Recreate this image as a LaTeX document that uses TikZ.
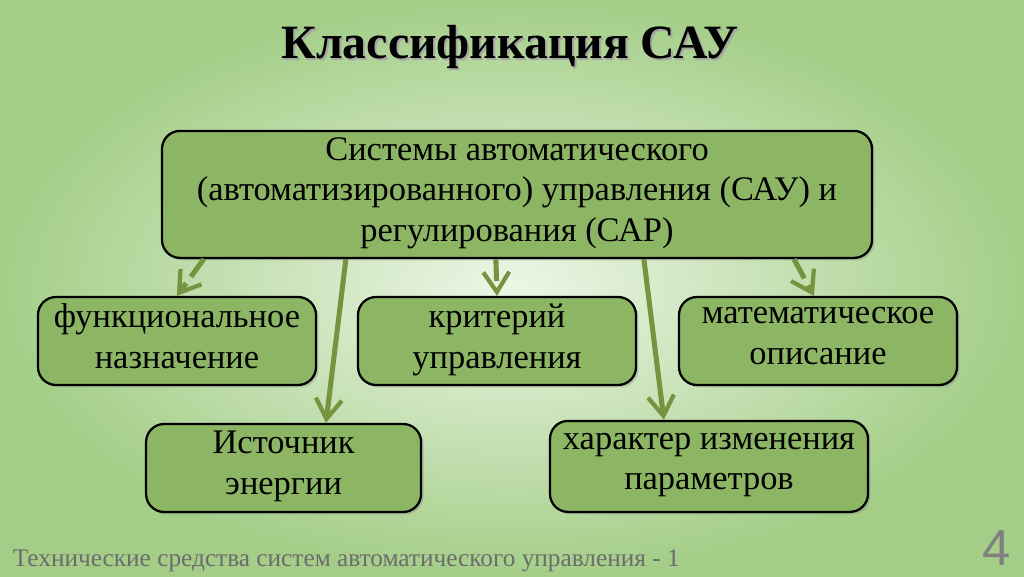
\documentclass[tikz,border=0pt]{standalone}
\usepackage{fontspec}
\setmainfont{Liberation Serif}
\newfontfamily\numfont{Liberation Sans}
\usetikzlibrary{arrows.meta,calc,shadows}

\definecolor{bgedge}{RGB}{164,206,136}
\definecolor{bgcenter}{RGB}{236,246,230}
\definecolor{boxgreen}{RGB}{141,182,100}
\definecolor{arrowgreen}{RGB}{118,148,64}

\begin{document}
\begin{tikzpicture}
        % Define styles
        \tikzset{
            classbox/.style={rectangle, rounded corners=0.45cm, draw=black, line width=1.6pt, fill=boxgreen, align=center, font=\fontsize{24.5}{29}\selectfont, inner sep=0pt, text depth=0.25cm, drop shadow={opacity=0.35, shadow xshift=0.06cm, shadow yshift=-0.06cm}},
            arrow/.style={-{Straight Barb[length=0.5cm, width=0.65cm, line width=3pt]}, draw=arrowgreen, line width=3.6pt},
            dasharrow/.style={arrow, dash pattern=on 0.55cm off 0.2cm}
        }

        % Background
        \shade[inner color=bgcenter, outer color=bgedge] (0,0) rectangle (25.6,14.4);
        \useasboundingbox (0,0) rectangle (25.6,14.4);

        % Title
        \node[text=gray!70, font=\fontsize{34}{40}\bfseries\selectfont] at (12.8,13.18) {Классификация САУ};
        \node[font=\fontsize{34}{40}\bfseries\selectfont] (title) at (12.75,13.23) {Классификация САУ};

        % Nodes
        \node[classbox, minimum width=17.75cm, minimum height=3.175cm] (sau) at (12.925,9.54) {Системы автоматического\\(автоматизированного) управления (САУ) и\\регулирования (САР)};
        \node[classbox, minimum width=6.95cm, minimum height=2.2cm] (func) at (4.425,5.875) {функциональное\\назначение};
        \node[classbox, minimum width=6.95cm, minimum height=2.2cm] (krit) at (12.425,5.875) {критерий\\управления};
        \node[classbox, minimum width=6.95cm, minimum height=2.2cm] (mat) at (20.45,5.875) {математическое\\описание};
        \node[classbox, minimum width=6.875cm, minimum height=2.2cm] (energy) at (7.09,2.7) {Источник\\энергии};
        \node[classbox, minimum width=7.95cm, minimum height=2.275cm] (param) at (17.725,2.74) {характер изменения\\параметров};

        % Start points
        \coordinate (s1) at ($(sau.south west)+(1.075,0)$);
        \coordinate (s2) at ($(sau.south west)+(4.625,0)$);
        \coordinate (s3) at ($(sau.south west)+(8.375,0)$);
        \coordinate (s4) at ($(sau.south west)+(12.075,0)$);
        \coordinate (s5) at ($(sau.south west)+(15.825,0)$);

        % Arrows
        \draw[dasharrow] (s1) -- ($(func.north west)+(3.5,0)$);
        \draw[arrow] (s2) -- ($(energy.north west)+(4.525,0)$);
        \draw[dasharrow] (s3) -- (krit.north);
        \draw[arrow] (s4) -- ($(param.north west)+(2.875,0)$);
        \draw[dasharrow] (s5) -- ($(mat.north west)+(3.4,0)$);

        % Footer
        \node[anchor=south west, text=gray!85!black, font=\fontsize{18}{21}\selectfont] (footer) at (0.2,-0.02) {Технические средства систем автоматического управления - 1};
        \node[anchor=south east, text=gray, font=\fontsize{36}{40}\numfont] (page) at (25.4,0.15) {4};
\end{tikzpicture}
\end{document}
